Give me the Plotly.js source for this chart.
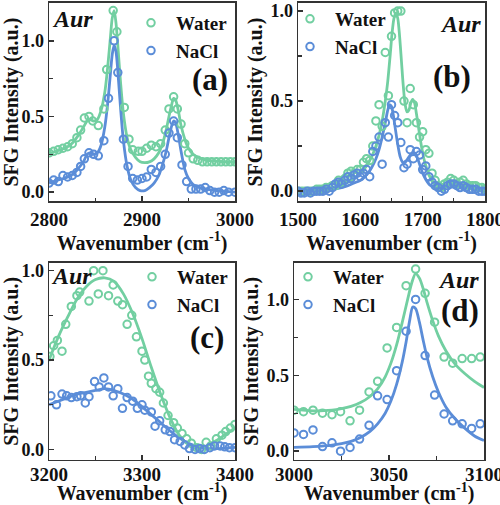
<!DOCTYPE html>
<html>
<head>
<meta charset="utf-8">
<script src="https://cdn.plot.ly/plotly-3.0.1.min.js"></script>
<style>
  html, body { margin: 0; padding: 0; background: #fff; }
  #chart { width: 500px; height: 505px; }
</style>
</head>
<body>
<div id="chart"></div>
<script>
// ---- Panel (a): 2800-3000 cm-1 ----
const aWaterX = [2800,2805,2810,2815,2820,2825,2830,2834,2838,2843,2847,2853,2859,2862,2869,2873,2881,2886,2890,2896,2900,2905,2910,2915,2920,2925,2929,2934,2938,2942,2946,2950,2955,2960,2965,2970,2975,2980,2985,2990,2995,3000];
const aWaterY = [0.26,0.27,0.28,0.29,0.30,0.32,0.36,0.41,0.49,0.50,0.47,0.44,0.55,0.81,1.20,1.06,0.56,0.35,0.28,0.27,0.27,0.29,0.31,0.30,0.32,0.41,0.55,0.63,0.55,0.45,0.32,0.26,0.22,0.21,0.20,0.20,0.20,0.20,0.20,0.20,0.20,0.20];
const aNaClX = [2800,2805,2810,2815,2820,2825,2830,2834,2838,2843,2848,2853,2859,2864,2870,2874,2880,2885,2890,2895,2900,2905,2910,2915,2920,2925,2929,2934,2938,2943,2948,2953,2958,2963,2968,2973,2978,2983,2988,2993,3000];
const aNaClY = [0.06,0.08,0.07,0.11,0.10,0.11,0.13,0.17,0.22,0.26,0.25,0.24,0.34,0.62,1.00,0.79,0.35,0.17,0.09,0.08,0.09,0.10,0.15,0.13,0.17,0.25,0.39,0.47,0.36,0.18,0.07,0.02,0.02,0.02,0.03,0.01,0.00,0.00,0.01,0.00,0.00];
const aWaterFitX = [2800,2810,2820,2826,2832,2837,2841,2844,2848,2852,2856,2860,2863,2866,2868,2870,2872,2874,2877,2880,2884,2888,2893,2898,2903,2908,2913,2918,2922,2926,2929,2932,2934,2936,2939,2942,2946,2950,2955,2962,2970,2980,2990,3000];
const aWaterFitY = [0.255,0.275,0.30,0.33,0.38,0.43,0.47,0.48,0.47,0.48,0.54,0.66,0.82,1.02,1.15,1.20,1.12,0.97,0.72,0.52,0.36,0.28,0.23,0.20,0.195,0.20,0.22,0.26,0.32,0.41,0.50,0.58,0.62,0.61,0.54,0.44,0.35,0.29,0.25,0.225,0.21,0.205,0.20,0.20];
const aNaClFitX = aWaterFitX;
const aNaClFitY = [0.06,0.08,0.10,0.12,0.16,0.20,0.25,0.26,0.25,0.26,0.31,0.43,0.58,0.78,0.91,0.97,0.93,0.80,0.55,0.34,0.17,0.08,0.03,0.01,0.01,0.03,0.06,0.11,0.18,0.27,0.36,0.44,0.47,0.46,0.38,0.27,0.15,0.09,0.05,0.03,0.02,0.01,0.005,0.00];

// ---- Panel (b): 1500-1800 cm-1 ----
const bX = [1500,1505,1510,1515,1520,1525,1530,1535,1540,1545,1550,1555,1560,1565,1570,1575,1580,1585,1590,1595,1600,1605,1610,1615,1620,1625,1630,1635,1640,1645,1650,1655,1660,1665,1670,1675,1680,1685,1690,1695,1700,1705,1710,1715,1720,1725,1730,1735,1740,1745,1750,1755,1760,1765,1770,1775,1780,1785,1790,1795,1800];
const bWaterY = [0.00,0.00,0.00,0.00,0.00,0.00,0.01,0.01,0.01,0.02,0.02,0.03,0.03,0.06,0.05,0.07,0.10,0.11,0.10,0.12,0.12,0.16,0.18,0.17,0.25,0.39,0.48,0.36,0.77,0.53,0.86,0.99,1.00,1.00,0.50,0.38,0.57,0.48,0.38,0.30,0.33,0.23,0.21,0.10,0.06,0.03,0.02,0.04,0.05,0.07,0.06,0.04,0.05,0.06,0.04,0.03,0.03,0.03,0.02,0.02,0.01];
const bNaClY = [0.00,-0.01,-0.01,0.00,-0.01,0.00,0.00,0.00,0.00,0.01,0.00,0.02,0.04,0.05,0.04,0.06,0.08,0.07,0.09,0.10,0.08,0.10,0.12,0.08,0.22,0.25,0.30,0.15,0.38,0.30,0.48,0.42,0.38,0.27,0.13,0.15,0.23,0.18,0.22,0.20,0.12,0.14,0.08,0.05,0.03,0.02,0.00,0.01,0.03,0.04,0.04,0.03,0.02,0.03,0.02,0.01,0.01,0.01,0.00,0.00,0.00];
const bWaterFitX = [1500,1520,1540,1555,1570,1580,1590,1600,1610,1618,1625,1630,1635,1640,1644,1648,1651,1654,1657,1660,1663,1666,1669,1672,1675,1678,1681,1684,1687,1690,1694,1698,1702,1706,1710,1715,1720,1726,1732,1738,1743,1748,1755,1765,1775,1785,1800];
const bWaterFitY = [0.00,0.005,0.012,0.02,0.035,0.05,0.07,0.10,0.14,0.19,0.25,0.31,0.39,0.50,0.61,0.76,0.88,0.96,0.99,0.96,0.86,0.72,0.58,0.48,0.44,0.45,0.49,0.51,0.49,0.43,0.34,0.25,0.18,0.13,0.09,0.06,0.04,0.025,0.025,0.035,0.045,0.045,0.04,0.03,0.02,0.015,0.005];
const bNaClFitX = [1500,1520,1540,1555,1570,1580,1590,1600,1610,1618,1625,1630,1635,1640,1644,1647,1650,1653,1656,1660,1664,1668,1672,1676,1680,1684,1688,1692,1696,1700,1705,1710,1716,1722,1728,1734,1740,1746,1752,1760,1770,1780,1790,1800];
const bNaClFitY = [0.00,0.00,0.005,0.01,0.02,0.03,0.045,0.06,0.09,0.13,0.18,0.23,0.30,0.38,0.45,0.48,0.47,0.42,0.35,0.26,0.19,0.16,0.16,0.18,0.20,0.215,0.21,0.18,0.14,0.10,0.065,0.04,0.025,0.015,0.01,0.015,0.03,0.035,0.03,0.025,0.02,0.01,0.005,0.00];

// ---- Panel (c): 3200-3400 cm-1 ----
const cWaterX = [3201,3205,3209,3214,3218,3224,3230,3233,3243,3248,3253,3258,3264,3269,3274,3279,3284,3289,3294,3300,3303,3307,3310,3315,3319,3323,3328,3334,3338,3343,3348,3353,3359,3364,3369,3374,3380,3386,3390,3395,3400];
const cWaterY = [0.52,0.58,0.61,0.55,0.70,0.80,0.86,0.88,0.83,1.00,0.87,1.00,0.86,0.92,0.83,0.81,0.70,0.75,0.63,0.55,0.50,0.41,0.37,0.34,0.32,0.26,0.19,0.15,0.12,0.09,0.06,0.035,0.01,0.00,0.04,0.02,0.06,0.08,0.10,0.12,0.14];
const cNaClX = [3202,3208,3214,3219,3224,3230,3234,3239,3243,3249,3254,3259,3264,3269,3274,3279,3284,3290,3295,3300,3303,3310,3314,3319,3325,3330,3335,3341,3346,3351,3357,3362,3367,3373,3378,3384,3389,3394,3400];
const cNaClY = [0.30,0.25,0.31,0.30,0.29,0.295,0.30,0.26,0.295,0.38,0.35,0.40,0.35,0.30,0.34,0.23,0.29,0.27,0.23,0.25,0.22,0.21,0.13,0.16,0.11,0.10,0.055,0.045,0.025,0.005,0.00,0.005,0.00,0.01,0.02,0.02,0.015,0.01,0.01];
const cFitX = [3200,3210,3220,3230,3240,3250,3260,3270,3280,3290,3300,3310,3320,3330,3340,3350,3355,3360,3365,3370,3380,3390,3400];
const cWaterFitY = [0.50,0.63,0.74,0.84,0.91,0.95,0.96,0.94,0.87,0.76,0.62,0.46,0.31,0.18,0.08,0.025,0.01,0.005,0.01,0.02,0.05,0.085,0.12];
const cNaClFitY = [0.25,0.27,0.29,0.31,0.32,0.33,0.34,0.33,0.31,0.28,0.24,0.195,0.15,0.105,0.065,0.035,0.025,0.015,0.01,0.005,0.005,0.008,0.012];

// ---- Panel (d): 3000-3100 cm-1 ----
const dX = [3000,3005,3010,3015,3020,3024.5,3029.5,3034.5,3039.5,3044,3049,3054,3059,3064,3069,3074,3079,3083.5,3088.5,3093.5,3098];
const dWaterY = [0.27,0.26,0.27,0.25,0.24,0.26,0.20,0.27,0.39,0.46,0.68,0.815,1.09,1.20,1.04,0.85,0.62,0.58,0.61,0.61,0.62];
const dNaClY = [0.12,0.11,0.14,0.03,0.055,0.00,0.025,0.08,0.17,0.365,0.34,0.53,0.79,1.00,0.63,0.37,0.245,0.20,0.18,0.15,0.18];
const dWaterFitX = [3000,3010,3020,3025,3030,3035,3040,3044,3048,3051,3054,3057,3060,3062,3064,3066,3068,3070,3073,3076,3080,3085,3090,3095,3100];
const dWaterFitY = [0.275,0.265,0.27,0.28,0.295,0.32,0.36,0.41,0.49,0.58,0.70,0.85,1.01,1.11,1.17,1.14,1.07,0.98,0.86,0.76,0.66,0.57,0.51,0.46,0.42];
const dNaClFitX = [3000,3010,3020,3025,3030,3035,3040,3044,3048,3051,3054,3057,3059,3061,3062.5,3064,3066,3068,3070,3073,3076,3080,3085,3090,3095,3100];
const dNaClFitY = [0.025,0.03,0.04,0.05,0.065,0.09,0.13,0.18,0.25,0.33,0.44,0.59,0.72,0.87,0.95,0.94,0.85,0.73,0.62,0.49,0.39,0.29,0.21,0.15,0.10,0.07];

const seriesNames = ['Water', 'NaCl'];
const waterColor = '#72CFA1';
const naclColor = '#5B8DD8';
const serif = 'Liberation Serif';

function pts(x, y, name, color, xa, ya, legend) {
  return {
    x: x, y: y, type: 'scatter', mode: 'markers', name: name,
    xaxis: xa, yaxis: ya, legend: legend, showlegend: true,
    marker: { symbol: 'circle-open', size: 7.5, color: color, line: { width: 2, color: color } }
  };
}
function fit(x, y, color, xa, ya) {
  return {
    x: x, y: y, type: 'scatter', mode: 'lines', showlegend: false,
    xaxis: xa, yaxis: ya, hoverinfo: 'skip',
    line: { color: color, width: 2.8, shape: 'spline', smoothing: 0.8 }
  };
}

const traces = [
  fit(aWaterFitX, aWaterFitY, waterColor, 'x', 'y'),
  fit(aNaClFitX, aNaClFitY, naclColor, 'x', 'y'),
  pts(aWaterX, aWaterY, seriesNames[0], waterColor, 'x', 'y', 'legend'),
  pts(aNaClX, aNaClY, seriesNames[1], naclColor, 'x', 'y', 'legend'),

  fit(bWaterFitX, bWaterFitY, waterColor, 'x2', 'y2'),
  fit(bNaClFitX, bNaClFitY, naclColor, 'x2', 'y2'),
  pts(bX, bWaterY, seriesNames[0], waterColor, 'x2', 'y2', 'legend2'),
  pts(bX, bNaClY, seriesNames[1], naclColor, 'x2', 'y2', 'legend2'),

  fit(cFitX, cWaterFitY, waterColor, 'x3', 'y3'),
  fit(cFitX, cNaClFitY, naclColor, 'x3', 'y3'),
  pts(cWaterX, cWaterY, seriesNames[0], waterColor, 'x3', 'y3', 'legend3'),
  pts(cNaClX, cNaClY, seriesNames[1], naclColor, 'x3', 'y3', 'legend3'),

  fit(dWaterFitX, dWaterFitY, waterColor, 'x4', 'y4'),
  fit(dNaClFitX, dNaClFitY, naclColor, 'x4', 'y4'),
  pts(dX, dWaterY, seriesNames[0], waterColor, 'x4', 'y4', 'legend4'),
  pts(dX, dNaClY, seriesNames[1], naclColor, 'x4', 'y4', 'legend4')
];

const W = 500, H = 505;
const px = (a, b) => [a / W, b / W];
const py = (top, bottom) => [1 - bottom / H, 1 - top / H];

function xAxis(domain, range, dtick, anchor, standoff, labelShift) {
  return {
    domain: domain, range: range, anchor: anchor, dtick: dtick, tick0: 0,
    showline: true, mirror: true, linecolor: '#333', linewidth: 1.5,
    ticks: 'inside', ticklen: 5, tickwidth: 1.5, tickcolor: '#333',
    minor: { ticks: 'inside', dtick: dtick / 2, ticklen: 3.5, tickwidth: 1.3, tickcolor: '#333' },
    showgrid: false, zeroline: false, automargin: false, ticklabeloverflow: 'allow',
    ticklabelstandoff: labelShift,
    tickfont: { family: serif, size: 19, weight: 'bold', color: '#111' },
    title: { text: 'Wavenumber (cm<sup>-1</sup>)', standoff: standoff,
             font: { family: serif, size: 20, weight: 'bold', color: '#111' } }
  };
}
function yAxis(domain, range, anchor) {
  return {
    domain: domain, range: range, anchor: anchor, dtick: 0.5, tick0: 0, tickformat: '.1f',
    showline: true, mirror: true, linecolor: '#333', linewidth: 1.5,
    ticks: 'inside', ticklen: 5, tickwidth: 1.5, tickcolor: '#333',
    minor: { ticks: 'inside', dtick: 0.25, ticklen: 3.5, tickwidth: 1.3, tickcolor: '#333' },
    showgrid: false, zeroline: false, automargin: false, ticklabeloverflow: 'allow',
    tickfont: { family: serif, size: 18, weight: 'bold', color: '#111' },
    title: { text: 'SFG Intensity (a.u.)', standoff: 2,
             font: { family: serif, size: 20, weight: 'bold', color: '#111' } }
  };
}
function legendAt(x, y) {
  return {
    x: x / W, y: 1 - y / H, xanchor: 'left', yanchor: 'top',
    bgcolor: 'rgba(0,0,0,0)', borderwidth: 0, itemwidth: 40, tracegroupgap: 0,
    font: { family: serif, size: 19, weight: 'bold', color: '#111' }
  };
}
function label(text, x, y, size, italic) {
  return {
    xref: 'paper', yref: 'paper', x: x / W, y: 1 - y / H, xanchor: 'center', yanchor: 'middle',
    text: text, showarrow: false,
    font: { family: serif, size: size, weight: 'bold', style: italic ? 'italic' : 'normal', color: '#111' }
  };
}

const layout = {
  width: W, height: H,
  margin: { l: 0, r: 0, t: 0, b: 0 },
  paper_bgcolor: '#fff', plot_bgcolor: '#fff',
  showlegend: true,
  xaxis: xAxis(px(49, 235), [2800, 3000], 100, 'y', 3, 0),
  yaxis: yAxis(py(1, 200), [-0.06, 1.25], 'x'),
  xaxis2: xAxis(px(298, 485), [1500, 1800], 100, 'y2', 3, 0),
  yaxis2: yAxis(py(1, 200), [-0.056, 1.045], 'x2'),
  xaxis3: xAxis(px(49, 235), [3200, 3400], 100, 'y3', 0, -3),
  yaxis3: yAxis(py(262, 459.5), [-0.057, 1.043], 'x3'),
  xaxis4: xAxis(px(294, 484), [3000, 3100], 50, 'y4', 0, -3),
  yaxis4: yAxis(py(262, 459.5), [-0.056, 1.24], 'x4'),
  legend: legendAt(126, 2),
  legend2: legendAt(285, -2),
  legend3: legendAt(127, 257),
  legend4: legendAt(283, 257),
  annotations: [
    label('Aur', 72, 17, 24, true),
    label('(a)', 210, 78, 31, false),
    label('Aur', 460, 22, 24, true),
    label('(b)', 452, 75, 31, false),
    label('Aur', 71, 275, 24, true),
    label('(c)', 207, 337, 31, false),
    label('Aur', 458, 279, 24, true),
    label('(d)', 460, 310, 31, false)
  ]
};

Plotly.newPlot('chart', traces, layout, { staticPlot: true, displayModeBar: false });
</script>
</body>
</html>
